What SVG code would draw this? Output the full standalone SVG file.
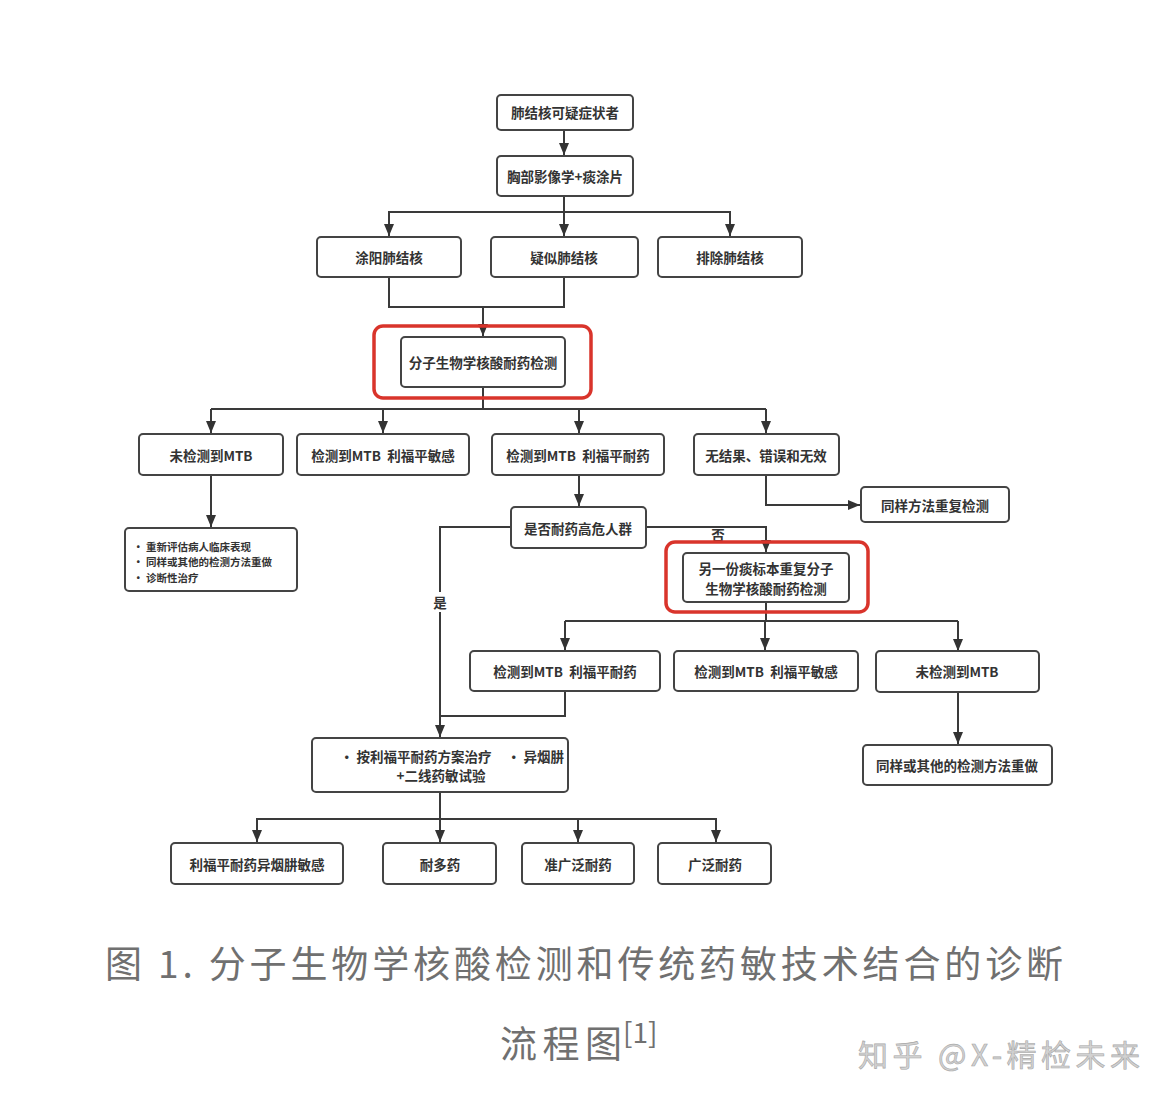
<svg xmlns="http://www.w3.org/2000/svg" width="1170" height="1102" viewBox="0 0 1170 1102">
<style>
.box{fill:#fff;stroke:#444;stroke-width:2}
.red{fill:none;stroke:#d9342b;stroke-width:3.5}
.t{font-family:"Noto Sans CJK SC","Liberation Sans",sans-serif;font-weight:bold;font-size:13.5px;fill:#333;text-anchor:middle;dominant-baseline:central}
.s{font-size:10.5px;text-anchor:start}
.c{stroke:#3a3a3a;stroke-width:2;fill:none}
.cap{font-family:"Noto Sans CJK SC","Liberation Sans",sans-serif;font-weight:normal;fill:#707070}
</style>
<defs>
<marker id="ah" markerUnits="userSpaceOnUse" markerWidth="13" markerHeight="11" refX="12" refY="5.5" orient="auto">
<path d="M0,0.5 L12,5.5 L0,10.5 z" fill="#333"/>
</marker>
</defs>
<rect width="1170" height="1102" fill="#fff"/>
<g id="connectors">
<path class="c" d="M564,130 V155" marker-end="url(#ah)"/>
<path class="c" d="M564,196 V236" marker-end="url(#ah)"/>
<path class="c" d="M389,236 V212 H730 V236" marker-end="url(#ah)"/>
<path class="c" d="M389,212 V236" marker-end="url(#ah)"/>
<path class="c" d="M389,277 V307 H564 V277"/>
<path class="c" d="M483,307 V336" marker-end="url(#ah)"/>
<path class="c" d="M483,387 V409"/>
<path class="c" d="M211,409 H766"/>
<path class="c" d="M211,409 V433" marker-end="url(#ah)"/>
<path class="c" d="M383,409 V433" marker-end="url(#ah)"/>
<path class="c" d="M579,409 V433" marker-end="url(#ah)"/>
<path class="c" d="M766,409 V433" marker-end="url(#ah)"/>
<path class="c" d="M211,475 V527" marker-end="url(#ah)"/>
<path class="c" d="M579,475 V506" marker-end="url(#ah)"/>
<path class="c" d="M766,475 V505 H860" marker-end="url(#ah)"/>
<path class="c" d="M646,527 H766 V552" marker-end="url(#ah)"/>
<path class="c" d="M511,527 H440 V737" marker-end="url(#ah)"/>
<path class="c" d="M766,602 V621"/>
<path class="c" d="M565,621 H958"/>
<path class="c" d="M565,621 V650" marker-end="url(#ah)"/>
<path class="c" d="M765,621 V650" marker-end="url(#ah)"/>
<path class="c" d="M958,621 V651" marker-end="url(#ah)"/>
<path class="c" d="M565,691 V716 H440"/>
<path class="c" d="M958,692 V744" marker-end="url(#ah)"/>
<path class="c" d="M440,792 V842" marker-end="url(#ah)"/>
<path class="c" d="M257,842 V819 H716 V842" marker-end="url(#ah)"/>
<path class="c" d="M257,819 V842" marker-end="url(#ah)"/>
<path class="c" d="M578,819 V842" marker-end="url(#ah)"/>
<g id="label-no"><text class="t" x="718" y="534" font-weight="normal">否</text></g>
<g id="label-yes"><rect x="430" y="592" width="20" height="20" fill="#fff"/><text class="t" x="440" y="602">是</text></g>
</g>
<g id="n1"><rect class="box" x="497" y="95" width="136" height="35" rx="4"/><text class="t" x="565" y="112">肺结核可疑症状者</text></g>
<g id="n2"><rect class="box" x="497" y="156" width="136" height="40" rx="4"/><text class="t" x="565" y="176">胸部影像学+痰涂片</text></g>
<g id="n3"><rect class="box" x="317" y="237" width="144" height="40" rx="4"/><text class="t" x="389" y="257">涂阳肺结核</text></g>
<g id="n4"><rect class="box" x="491" y="237" width="147" height="40" rx="4"/><text class="t" x="564" y="257">疑似肺结核</text></g>
<g id="n5"><rect class="box" x="658" y="237" width="144" height="40" rx="4"/><text class="t" x="730" y="257">排除肺结核</text></g>
<g id="n6"><rect class="red" x="374" y="326" width="217" height="72" rx="9"/><rect class="box" x="401" y="337" width="164" height="50" rx="4"/><text class="t" x="483" y="362">分子生物学核酸耐药检测</text></g>
<g id="n7"><rect class="box" x="139" y="434" width="144" height="41" rx="4"/><text class="t" x="211" y="455" font-size="14">未检测到MTB</text></g>
<g id="n8"><rect class="box" x="297" y="434" width="172" height="41" rx="4"/><text class="t" x="383" y="455" font-size="14" xml:space="preserve">检测到MTB  利福平敏感</text></g>
<g id="n9"><rect class="box" x="492" y="434" width="172" height="41" rx="4"/><text class="t" x="578" y="455" font-size="14" xml:space="preserve">检测到MTB  利福平耐药</text></g>
<g id="n10"><rect class="box" x="694" y="434" width="145" height="41" rx="4"/><text class="t" x="766" y="455">无结果、错误和无效</text></g>
<g id="n11"><rect class="box" x="861" y="487" width="148" height="35" rx="4"/><text class="t" x="935" y="505" font-size="13">同样方法重复检测</text></g>
<g id="n12"><rect class="box" x="125" y="528" width="172" height="63" rx="4"/>
<text class="t s" x="133" y="546">• 重新评估病人临床表现</text>
<text class="t s" x="133" y="561.5">• 同样或其他的检测方法重做</text>
<text class="t s" x="133" y="577">• 诊断性治疗</text></g>
<g id="n13"><rect class="box" x="511" y="507" width="135" height="41" rx="4"/><text class="t" x="578" y="528">是否耐药高危人群</text></g>
<g id="n14"><rect class="red" x="666" y="542" width="202" height="70" rx="9"/><rect class="box" x="683" y="553" width="166" height="49" rx="4"/><text class="t" x="766" y="568" font-size="13">另一份痰标本重复分子</text><text class="t" x="766" y="587.5" font-size="13">生物学核酸耐药检测</text></g>
<g id="n15"><rect class="box" x="470" y="651" width="190" height="40" rx="4"/><text class="t" x="565" y="671" xml:space="preserve">检测到MTB  利福平耐药</text></g>
<g id="n16"><rect class="box" x="674" y="651" width="184" height="40" rx="4"/><text class="t" x="766" y="671" xml:space="preserve">检测到MTB  利福平敏感</text></g>
<g id="n17"><rect class="box" x="876" y="651" width="163" height="41" rx="4"/><text class="t" x="957" y="671">未检测到MTB</text></g>
<g id="n18"><rect class="box" x="863" y="745" width="189" height="40" rx="4"/><text class="t" x="957" y="765">同样或其他的检测方法重做</text></g>
<g id="n19"><rect class="box" x="312" y="738" width="256" height="54" rx="4"/><text class="t" x="340" y="755.5" font-size="13" style="text-anchor:start">• 按利福平耐药方案治疗</text><text class="t" x="507" y="755.5" font-size="13" style="text-anchor:start">• 异烟肼</text><text class="t" x="441" y="775" font-size="13">+二线药敏试验</text></g>
<g id="n20"><rect class="box" x="171" y="843" width="172" height="41" rx="4"/><text class="t" x="257" y="864">利福平耐药异烟肼敏感</text></g>
<g id="n21"><rect class="box" x="383" y="843" width="113" height="41" rx="4"/><text class="t" x="440" y="864">耐多药</text></g>
<g id="n22"><rect class="box" x="522" y="843" width="112" height="41" rx="4"/><text class="t" x="578" y="864">准广泛耐药</text></g>
<g id="n23"><rect class="box" x="658" y="843" width="113" height="41" rx="4"/><text class="t" x="715" y="864">广泛耐药</text></g>
<g id="caption">
<text class="cap" x="105" y="978" font-size="37" textLength="958" lengthAdjust="spacing">图 1. 分子生物学核酸检测和传统药敏技术结合的诊断</text>
<text class="cap" x="500" y="1058" font-size="37" textLength="122" lengthAdjust="spacing">流程图</text>
<text class="cap" x="623" y="1043" font-size="28">[1]</text>
<text x="858" y="1066" font-family="&quot;Noto Sans CJK SC&quot;,&quot;Liberation Sans&quot;,sans-serif" font-size="30" fill="#d2d2d2" stroke="#a8a8a8" stroke-width="0.6" textLength="282" lengthAdjust="spacing">知乎 @X-精检未来</text>
</g>
</svg>
